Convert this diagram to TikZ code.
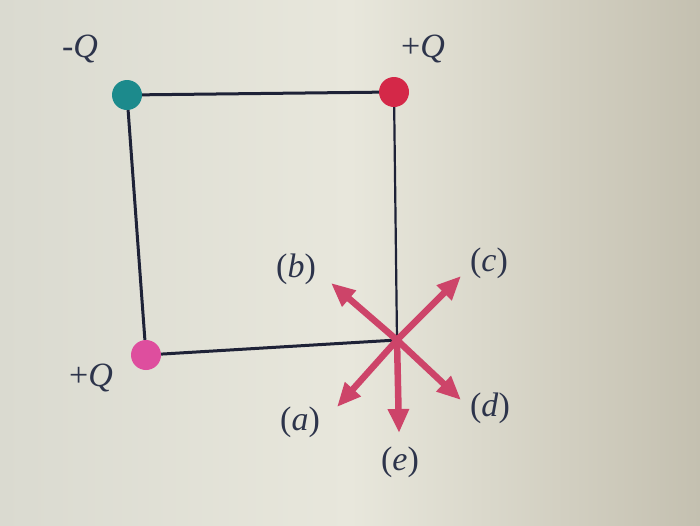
\documentclass[tikz,border=0pt]{standalone}
\usepackage{fontspec}
\setmainfont{Liberation Serif}
\usetikzlibrary{arrows.meta}
\definecolor{bgmid}{RGB}{232,231,220}
\definecolor{bgleft}{RGB}{218,218,208}
\definecolor{bgright}{RGB}{196,192,176}
\definecolor{wire}{RGB}{30,34,55}
\definecolor{tealq}{RGB}{28,138,140}
\definecolor{redq}{RGB}{212,40,72}
\definecolor{pinkq}{RGB}{222,78,158}
\definecolor{arrowc}{RGB}{205,68,105}
\definecolor{txt}{RGB}{45,52,75}
\tikzset{
  charge/.style={circle,inner sep=0pt,minimum size=30pt},
  wireline/.style={draw=wire,line width=3pt},
  lbl/.style={text=txt,font=\fontsize{34}{36}\selectfont,inner sep=0pt},
  vec/.style={draw=arrowc,line width=6.5pt,-{Triangle[length=24pt,width=20pt]}}
}
\begin{document}
\begin{tikzpicture}[x=1pt,y=-1pt]
\useasboundingbox (0,0) rectangle (700,525);
\shade[left color=bgleft,right color=bgright,middle color=bgmid,shading angle=90] (0,0) rectangle (700,525);
% charges
\node[charge,fill=tealq] (tl) at (127,95) {};
\node[charge,fill=redq] (tr) at (394,92) {};
\node[charge,fill=pinkq] (bl) at (146,355) {};
\coordinate (br) at (397,340);
% wires
\draw[wireline] (tl) -- (tr);
\draw[wireline] (tl) -- (bl);
\draw[wireline,line width=2.2pt] (tr) -- (br);
\draw[wireline] (bl) -- (br);
% arrow tips
\coordinate (ta) at (337,407);
\coordinate (tb) at (331,283);
\coordinate (tc) at (461,276);
\coordinate (td) at (461,400);
\coordinate (te) at (399,433);
\draw[vec] (br) -- (ta);
\draw[vec] (br) -- (tb);
\draw[vec] (br) -- (tc);
\draw[vec] (br) -- (td);
\draw[vec] (br) -- (te);
% labels
\node[lbl] (qtl) at (80,49) {-\textit{Q}};
\node[lbl] (qtr) at (423,49) {+\textit{Q}};
\node[lbl] (qbl) at (91,378) {+\textit{Q}};
\node[lbl] (la) at (300,422) {(\textit{a})};
\node[lbl] (lb) at (296,269) {(\textit{b})};
\node[lbl] (lc) at (489,263) {(\textit{c})};
\node[lbl] (ld) at (490,408) {(\textit{d})};
\node[lbl] (le) at (400,462) {(\textit{e})};
\end{tikzpicture}
\end{document}
